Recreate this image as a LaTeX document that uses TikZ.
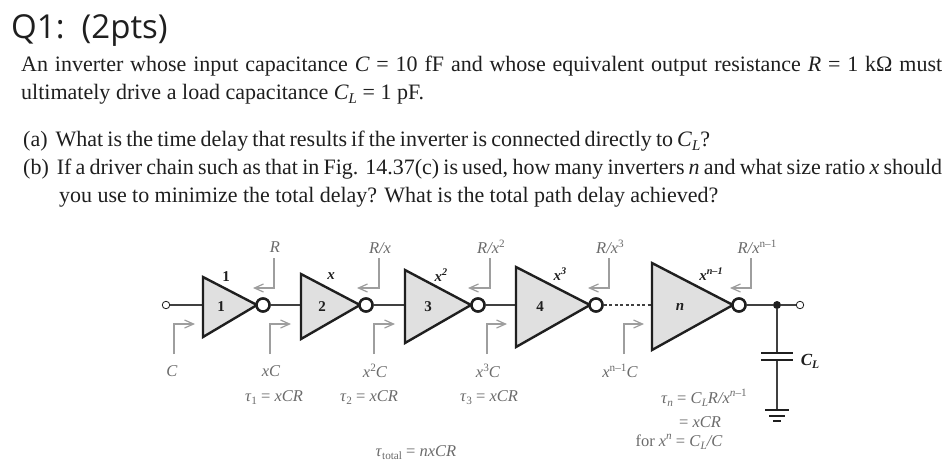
\documentclass[tikz,border=0pt]{standalone}
\usepackage{fontspec}
\setmainfont{Liberation Serif}
\newfontfamily\titlefont{Open Sans}
\usetikzlibrary{arrows.meta}
\definecolor{gr}{gray}{0.62}
\definecolor{txtgr}{gray}{0.42}
\definecolor{fillg}{gray}{0.88}
\definecolor{ink}{gray}{0.12}
\newcommand{\iv}[1]{\textit{#1}}
\newcommand{\ssup}[1]{\raisebox{0.85ex}{\scalebox{0.68}{#1}}}
\newcommand{\ssub}[1]{\raisebox{-0.4ex}{\scalebox{0.68}{#1}}}
\newcommand{\fitline}[2]{\makebox[#1][s]{\spaceskip=.25em plus .5em minus .25em\relax #2}}
\tikzset{
  body/.style={anchor=base west,font=\fontsize{22}{26}\selectfont,text=ink,inner sep=0pt},
  lab/.style={font=\fontsize{16.5}{18}\selectfont,text=txtgr,inner sep=0pt},
  siz/.style={font=\bfseries\itshape\fontsize{15}{17}\selectfont,text=ink,inner sep=0pt},
  num/.style={font=\bfseries\fontsize{15}{17}\selectfont,text=ink,inner sep=0pt},
  tri/.style={draw=ink,fill=fillg,line width=2.4pt,line join=miter},
  bub/.style={circle,draw=ink,line width=2.4pt,fill=white,minimum size=13pt,inner sep=0pt},
  term/.style={circle,draw=ink,line width=0.8pt,fill=white,minimum size=7.5pt,inner sep=0pt},
  wire/.style={draw=ink!85!white,line width=1.1pt},
  ptr/.style={draw=gr,line width=1.2pt,-{Straight Barb[length=9pt,width=8pt]}}
}
\begin{document}
\begin{tikzpicture}[x=1pt,y=-1pt]
\useasboundingbox[fill=white] (0,0) rectangle (952,472);
\node[anchor=base west,inner sep=0pt,font=\titlefont\fontsize{33}{37}\selectfont,text=ink] (title) at (11,38) {Q1:\ \ (2pts)};
\node[body] (l1) at (21,71) {\fitline{921pt}{An inverter whose input capacitance \iv{C} = 10 fF and whose equivalent output resistance \iv{R} = 1 kΩ must}};
\node[body] (l2) at (21,99) {\fitline{403pt}{ultimately drive a load capacitance \iv{C}\ssub{\iv{L}} = 1 pF.}};
\node[body] (l3) at (23,146) {\fitline{687pt}{(a)\hspace{8pt}What is the time delay that results if the inverter is connected directly to \iv{C}\ssub{\iv{L}}?}};
\node[body] (l4) at (23,174) {\fitline{919pt}{(b)\hspace{8pt}If a driver chain such as that in Fig. 14.37(c) is used, how many inverters \iv{n} and what size ratio \iv{x} should}};
\node[body] (l5) at (59,202) {\fitline{659pt}{you use to minimize the total delay? What is the total path delay achieved?}};
% terminals and bubbles
\node[term] (in) at (166,305) {};
\node[bub] (b1) at (263,305) {};
\node[bub] (b2) at (366,305) {};
\node[bub] (b3) at (478,305) {};
\node[bub] (b4) at (596,305) {};
\node[bub] (bn) at (739,305) {};
\node[circle,fill=ink,minimum size=8pt,inner sep=0pt] (dot) at (777,305) {};
\node[term] (out) at (800,305) {};
\coordinate (t1) at (203,305);
\coordinate (t2) at (301,305);
\coordinate (t3) at (405,305);
\coordinate (t4) at (516,305);
\coordinate (tn) at (652,305);
% wires
\draw[wire] (in) -- (t1);
\draw[wire] (b1) -- (t2);
\draw[wire] (b2) -- (t3);
\draw[wire] (b3) -- (t4);
\draw[wire,dashed,dash pattern=on 3pt off 2.5pt] (b4) -- (tn);
\draw[wire] (bn) -- (dot) -- (out);
% triangles
\draw[tri] (203,277) -- (257,305) -- (203,337) -- cycle;
\draw[tri] (301,274) -- (360,305) -- (301,339) -- cycle;
\draw[tri] (405,270) -- (471,305) -- (405,343) -- cycle;
\draw[tri] (516,267) -- (590,305) -- (516,347) -- cycle;
\draw[tri] (652,263) -- (733,305) -- (652,350) -- cycle;
\node[bub] at (b1) {};
\node[bub] at (b2) {};
\node[bub] at (b3) {};
\node[bub] at (b4) {};
\node[bub] at (bn) {};
% numbers
\node[num] (n1) at (221,307) {1};
\node[num] (n2) at (322,307) {2};
\node[num] (n3) at (428,307) {3};
\node[num] (n4) at (540,307) {4};
\node[siz] (nn) at (680,307) {n};
% sizes
\node[num] (s1) at (226,277) {1};
\node[siz] (s2) at (331,276) {x};
\node[siz] (s3) at (441,275) {x\ssup{2}};
\node[siz] (s4) at (560,274) {x\ssup{3}};
\node[siz] (sn) at (711,274) {x\ssup{n–1}};
% R labels and pointers
\node[lab] (r1) at (275,247) {\iv{R}};
\node[lab] (r2) at (380,248) {\iv{R/x}};
\node[lab] (r3) at (491,247) {\iv{R/x}\ssup{2}};
\node[lab] (r4) at (610,247) {\iv{R/x}\ssup{3}};
\node[lab] (rn) at (757,247) {\iv{R/x}\ssup{n–1}};
\coordinate (pa1) at (274,258); \coordinate (pb1) at (274,288); \coordinate (pc1) at (253,288);
\coordinate (pa2) at (379,258); \coordinate (pb2) at (379,288); \coordinate (pc2) at (357,288);
\coordinate (pa3) at (490,258); \coordinate (pb3) at (490,288); \coordinate (pc3) at (468,288);
\coordinate (pa4) at (609,258); \coordinate (pb4) at (609,288); \coordinate (pc4) at (588,288);
\coordinate (pan) at (751,258); \coordinate (pbn) at (751,288); \coordinate (pcn) at (730,288);
\foreach \i in {1,2,3,4,n} \draw[ptr] (pa\i) -- (pb\i) -- (pc\i);
% C labels and pointers
\node[lab] (c1) at (172,371) {\iv{C}};
\node[lab] (c2) at (271,371) {\iv{xC}};
\node[lab] (c3) at (375,371) {\iv{x}\ssup{2}\iv{C}};
\node[lab] (c4) at (488,371) {\iv{x}\ssup{3}\iv{C}};
\node[lab] (cn) at (620,371) {\iv{x}\ssup{n–1}\iv{C}};
\coordinate (qa1) at (174,354); \coordinate (qb1) at (174,324); \coordinate (qc1) at (195,324);
\coordinate (qa2) at (270,354); \coordinate (qb2) at (270,324); \coordinate (qc2) at (291,324);
\coordinate (qa3) at (374,354); \coordinate (qb3) at (374,324); \coordinate (qc3) at (395,324);
\coordinate (qa4) at (487,354); \coordinate (qb4) at (487,324); \coordinate (qc4) at (507,324);
\coordinate (qan) at (624,354); \coordinate (qbn) at (624,324); \coordinate (qcn) at (644,324);
\foreach \i in {1,2,3,4,n} \draw[ptr] (qa\i) -- (qb\i) -- (qc\i);
% tau labels
\node[lab] (k1) at (274,398) {\iv{τ}\ssub{1} = \iv{xCR}};
\node[lab] (k2) at (369,398) {\iv{τ}\ssub{2} = \iv{xCR}};
\node[lab] (k3) at (489,398) {\iv{τ}\ssub{3} = \iv{xCR}};
\node[lab,anchor=base east] (k4) at (747,403) {\iv{τ}\ssub{\iv{n}} = \iv{C}\ssub{\iv{L}}\iv{R/x}\ssup{\iv{n}–1}};
\node[lab,anchor=base] (k5) at (700,427) {= \iv{xCR}};
\node[lab,anchor=base] (k6) at (679,446) {for \iv{x}\ssup{\iv{n}} = \iv{C}\ssub{\iv{L}}\iv{/C}};
\node[lab] (k7) at (416,453) {\iv{τ}\ssub{total} = \iv{nxCR}};
% capacitor and ground
\coordinate (cp1) at (777,353);
\coordinate (cp2) at (777,360);
\coordinate (g0) at (777,410);
\draw[wire] (dot) -- (cp1);
\draw[wire] (cp2) -- (g0);
\draw[ink,line width=2.2pt] (761,353) -- (793,353) (761,360) -- (793,360);
\draw[ink,line width=2.2pt] (765,410) -- (789,410) (769,416) -- (785,416) (773,421) -- (781,421);
\node[font=\bfseries\itshape\fontsize{17}{19}\selectfont,text=ink,inner sep=0pt] (cl) at (810,361) {C\ssub{L}};
\end{tikzpicture}
\end{document}
